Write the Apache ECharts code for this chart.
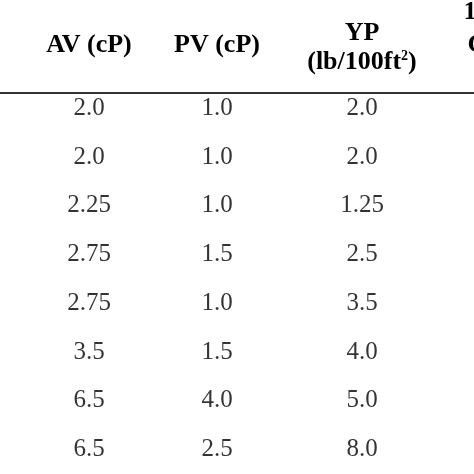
<!DOCTYPE html><html><head><meta charset="utf-8"><script src="https://cdn.jsdelivr.net/npm/echarts@6/dist/echarts.min.js"></script>
<style>html,body{margin:0;padding:0;background:#fff}#c{width:474px;height:474px}</style></head><body><div id="c"></div>
<script>
const rows = ['r1','r2','r3','r4','r5','r6','r7','r8'];
const av = ['2.0','2.0','2.25','2.75','2.75','3.5','6.5','6.5'];
const pv = ['1.0','1.0','1.0','1.5','1.0','1.5','4.0','2.5'];
const yp = ['2.0','2.0','1.25','2.5','3.5','4.0','5.0','8.0'];
const colX = [89, 217, 362];
const cols = [av, pv, yp];
const data = [];
cols.forEach((c, ci) => c.forEach((v, ri) => data.push({value: [colX[ci], rows[ri]], label: v})));
const F = '"Liberation Serif","Times New Roman",serif';
const hdr = {fontFamily: F, fontWeight: 'bold', fontSize: 26, fill: '#000', textAlign: 'center', textVerticalAlign: 'middle'};
const chart = echarts.init(document.getElementById('c'));
chart.setOption({
  animation: false,
  grid: {left: 0, right: 0, top: 84, height: 419},
  xAxis: {type: 'value', min: 0, max: 474, show: false},
  yAxis: {type: 'category', data: rows, inverse: true, show: false},
  series: [{
    type: 'scatter', symbolSize: 0, data: data,
    label: {show: true, position: 'inside', formatter: p => p.data.label, fontFamily: F, fontSize: 25, color: '#000', textBorderWidth: 0}
  }],
  graphic: [
    {type: 'text', x: 89, y: 45, style: Object.assign({text: 'AV (cP)'}, hdr)},
    {type: 'text', x: 217, y: 45, style: Object.assign({text: 'PV (cP)'}, hdr)},
    {type: 'text', x: 362, y: 33, style: Object.assign({text: 'YP'}, hdr)},
    {type: 'text', x: 362, y: 62, style: Object.assign({text: '(lb/100ft{s|2})', rich: {s: {fontFamily: F, fontWeight: 'bold', fontSize: 14, verticalAlign: 'top', padding: [0,0,10,0]}}}, hdr)},
    {type: 'text', x: 470, y: 12, style: Object.assign({text: '1'}, hdr)},
    {type: 'text', x: 477, y: 45, style: Object.assign({text: 'C'}, hdr)},
    {type: 'line', shape: {x1: 0, y1: 93, x2: 474, y2: 93}, style: {stroke: '#333', lineWidth: 2}}
  ]
});
</script></body></html>
